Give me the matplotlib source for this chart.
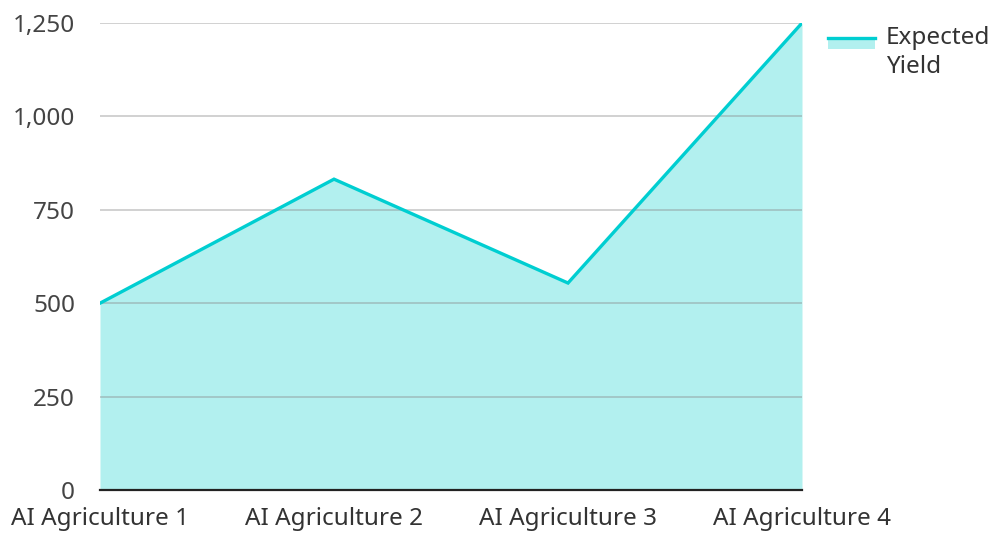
import numpy as np
import matplotlib
matplotlib.use("Agg")
import matplotlib.pyplot as plt
from matplotlib.legend_handler import HandlerBase
from matplotlib.patches import Rectangle
from matplotlib.lines import Line2D

plt.rcParams['font.family'] = ['Noto Sans', 'DejaVu Sans']

categories = ["AI Agriculture 1", "AI Agriculture 2", "AI Agriculture 3", "AI Agriculture 4"]
expected_yield = [500, 832, 554, 1250]
yticks = [0, 250, 500, 750, 1000, 1250]

line_col = '#00CED1'
fill_col = '#b2f0ef'
txt_col = '#333333'
fs = 17.5


class FillLineHandler(HandlerBase):
    # legend key: thick line on top of a filled box, pushed up next to the first text line
    def create_artists(self, legend, orig, xdescent, ydescent, width, height, fontsize, trans):
        y0 = -ydescent + 8
        hp = 8
        r = Rectangle((-xdescent, y0), width, hp, fc=fill_col, ec='none', transform=trans)
        l = Line2D([-xdescent, -xdescent + width], [y0 + hp, y0 + hp], color=line_col, lw=2.4, transform=trans)
        return [r, l]


fig = plt.figure(figsize=(9.94, 5.33), dpi=100)
ax = fig.add_axes([100 / 994, 1 - 490 / 533, 702 / 994, 467 / 533])

x = np.arange(len(categories))
ax.fill_between(x, 0, expected_yield, color=fill_col, lw=0, zorder=1)
ax.plot(x, expected_yield, color=line_col, lw=2.4, zorder=3, solid_joinstyle='miter')

ax.set_xlim(0, len(categories) - 1)
ax.set_ylim(0, 1250)
ax.set_yticks(yticks)
ax.set_yticklabels([f"{v:,}" for v in yticks])
ax.set_xticks(x)
ax.set_xticklabels(categories)

for v in yticks[1:]:
    ax.axhline(v, color='#888888', alpha=0.45, lw=1.2, zorder=2)

for s in ['top', 'right', 'left']:
    ax.spines[s].set_visible(False)
ax.spines['bottom'].set_color('#222222')
ax.spines['bottom'].set_linewidth(1.6)
ax.spines['bottom'].set_zorder(4)

ax.tick_params(axis='y', length=0, pad=18, labelsize=fs, labelcolor='#444444')
ax.tick_params(axis='x', length=0, pad=12, labelsize=fs, labelcolor='#333333')

leg = ax.legend(handles=[Rectangle((0, 0), 1, 1)], labels=["Expected\nYield"],
                handler_map={Rectangle: FillLineHandler()},
                loc='upper left', bbox_to_anchor=(828 / 994, 1 - 26 / 533),
                bbox_transform=fig.transFigure, frameon=False, fontsize=fs,
                handlelength=1.95, handleheight=0.55, handletextpad=0.42,
                borderpad=0, borderaxespad=0, labelspacing=0)
for t in leg.get_texts():
    t.set_color(txt_col)
    t.set_linespacing(1.3)

fig.savefig("out.png", dpi=100)
